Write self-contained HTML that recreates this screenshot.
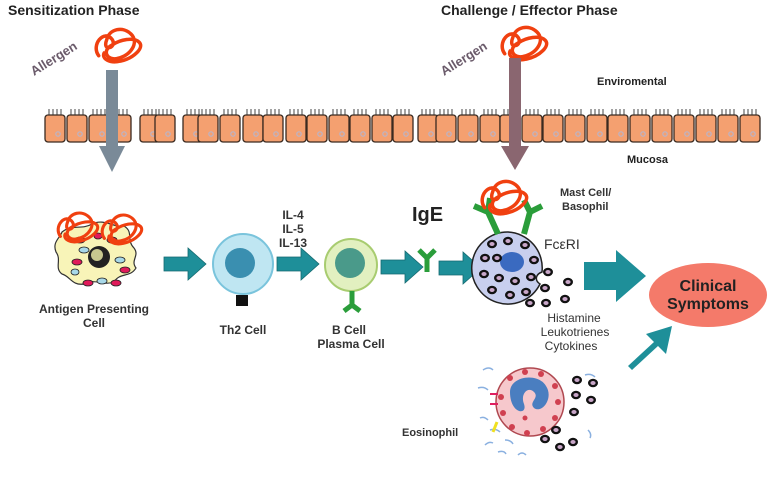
<!DOCTYPE html>
<html><head><meta charset="utf-8"><style>
html,body{margin:0;padding:0;background:#fff}
svg{display:block}
text{font-family:"Liberation Sans",Arial,sans-serif}
</style></head><body>
<svg width="768" height="485" viewBox="0 0 768 485" xmlns="http://www.w3.org/2000/svg">
<defs>
<g id="cell">
<rect x="0" y="0" width="20" height="27" rx="3" fill="#f4a070" stroke="#3a2a20" stroke-width="1.3"/>
<circle cx="13" cy="19" r="2.2" fill="none" stroke="#b9b4c8" stroke-width="1.2"/>
<path d="M4 0v-6M8 0v-6M12 0v-6M16 0v-6" stroke="#333" stroke-width="0.9"/>
</g>
<g id="alg">
<path d="M2 22c-6-8 4-20 10-12c4 6-8 10-4 0c2-8 12-10 18-4c6 6 0 16-10 18c-8 2-12-6-4-10c6-4 16-6 20-2c4 4-4 12-14 14c-8 2-14-2-12-6" fill="none" stroke="#f04010" stroke-width="2.6" stroke-linecap="round"/>
</g>
<g id="ab">
<path d="M0 0v14M0 0l-8-8M0 0l8-8" stroke="#2a9d3a" stroke-width="5" fill="none"/>
</g>
<g id="tarrow"><path d="M0 -7h24v-9l18 16l-18 16v-9h-24z" fill="#1e8f99" stroke="#156a70" stroke-width="0.8"/></g>
<g id="gran"><ellipse cx="0" cy="0" rx="5" ry="4.3" fill="#111"/><ellipse cx="0" cy="0" rx="2.6" ry="2" fill="#c8a6c8"/></g>
</defs>

<text x="8" y="15" font-size="14" font-weight="bold" fill="#222">Sensitization Phase</text>
<text x="441" y="15" font-size="14" font-weight="bold" fill="#222">Challenge / Effector Phase</text>
<text x="0" y="0" font-size="13" fill="#6a5a6a" font-weight="bold" transform="translate(34 76) rotate(-32)">Allergen</text>
<text x="0" y="0" font-size="13" fill="#6a5a6a" font-weight="bold" transform="translate(444 76) rotate(-32)">Allergen</text>
<use href="#alg" transform="translate(96 26) scale(1.35)"/>
<use href="#alg" transform="translate(502 24) scale(1.35)"/>

<g>
<use href="#cell" x="45" y="115"/><use href="#cell" x="67" y="115"/><use href="#cell" x="89" y="115"/><use href="#cell" x="111" y="115"/>
<use href="#cell" x="140" y="115"/><use href="#cell" x="155" y="115"/><use href="#cell" x="183" y="115"/><use href="#cell" x="198" y="115"/>
<use href="#cell" x="220" y="115"/><use href="#cell" x="243" y="115"/><use href="#cell" x="263" y="115"/><use href="#cell" x="286" y="115"/>
<use href="#cell" x="307" y="115"/><use href="#cell" x="329" y="115"/><use href="#cell" x="350" y="115"/><use href="#cell" x="372" y="115"/>
<use href="#cell" x="393" y="115"/><use href="#cell" x="418" y="115"/><use href="#cell" x="436" y="115"/><use href="#cell" x="458" y="115"/>
<use href="#cell" x="480" y="115"/><use href="#cell" x="500" y="115"/><use href="#cell" x="522" y="115"/><use href="#cell" x="543" y="115"/>
<use href="#cell" x="565" y="115"/><use href="#cell" x="587" y="115"/><use href="#cell" x="608" y="115"/><use href="#cell" x="630" y="115"/>
<use href="#cell" x="652" y="115"/><use href="#cell" x="674" y="115"/><use href="#cell" x="696" y="115"/><use href="#cell" x="718" y="115"/>
<use href="#cell" x="740" y="115"/>
</g>

<path d="M106 70h12v76h7l-13 26l-13-26h7z" fill="#7a8a98"/>
<path d="M509 58h12v88h8l-14 24l-14-24h8z" fill="#8a6670"/>

<text x="597" y="85" font-size="11" font-weight="bold" fill="#222">Enviromental</text>
<text x="627" y="163" font-size="11" font-weight="bold" fill="#222">Mucosa</text>

<!-- APC -->
<path d="M62 232c10-8 20-2 30-8c12-6 22 4 32 2c10 6 2 14 10 22c6 8-4 12 2 20c-6 10-16 4-22 14c-10 4-20-4-30 2c-12 2-14-8-22-10c-8-6 0-14-6-22c-4-10 4-14 6-20z" fill="#f8f4b8" stroke="#333" stroke-width="1.2"/>
<circle cx="99" cy="257" r="11" fill="#222"/><circle cx="97" cy="255" r="6" fill="#c8c890"/>
<g fill="#e01a5a" stroke="#222" stroke-width="0.8">
<ellipse cx="80" cy="240" rx="5" ry="3"/><ellipse cx="112" cy="240" rx="5" ry="3"/><ellipse cx="77" cy="262" rx="5" ry="3"/><ellipse cx="125" cy="270" rx="5" ry="3"/><ellipse cx="116" cy="283" rx="5" ry="3"/><ellipse cx="88" cy="283" rx="5" ry="3"/><ellipse cx="98" cy="236" rx="4" ry="3"/></g>
<g fill="#a8d8e8" stroke="#222" stroke-width="0.8">
<ellipse cx="84" cy="250" rx="5" ry="3"/><ellipse cx="120" cy="260" rx="5" ry="3"/><ellipse cx="102" cy="281" rx="5" ry="3"/><ellipse cx="75" cy="272" rx="4" ry="3"/></g>
<use href="#alg" transform="translate(58 210) scale(1.2)"/>
<use href="#alg" transform="translate(102 212) scale(1.2)"/>
<text x="94" y="313" font-size="12" font-weight="bold" text-anchor="middle" fill="#333">Antigen Presenting</text>
<text x="94" y="327" font-size="12" font-weight="bold" text-anchor="middle" fill="#333">Cell</text>

<use href="#tarrow" x="164" y="264"/>
<!-- Th2 -->
<circle cx="243" cy="264" r="30" fill="#bfe6f2" stroke="#7ac4dc" stroke-width="2"/>
<circle cx="240" cy="263" r="15" fill="#3a8fb0"/>
<rect x="236" y="295" width="12" height="11" fill="#111"/>
<text x="243" y="334" font-size="12" font-weight="bold" text-anchor="middle" fill="#333">Th2 Cell</text>

<text x="293" y="219" font-size="12" font-weight="bold" text-anchor="middle" fill="#333">IL-4</text>
<text x="293" y="233" font-size="12" font-weight="bold" text-anchor="middle" fill="#333">IL-5</text>
<text x="293" y="247" font-size="12" font-weight="bold" text-anchor="middle" fill="#333">IL-13</text>
<use href="#tarrow" x="277" y="264"/>
<!-- B cell -->
<circle cx="351" cy="265" r="26" fill="#e2f0c0" stroke="#a8cc70" stroke-width="2"/>
<circle cx="350" cy="263" r="15" fill="#4a9a8a"/>
<path d="M352 291v14M352 305l-8 6M352 305l8 6" stroke="#2a9d3a" stroke-width="5" fill="none"/>
<text x="349" y="334" font-size="12" font-weight="bold" text-anchor="middle" fill="#333">B Cell</text>
<text x="351" y="348" font-size="12" font-weight="bold" text-anchor="middle" fill="#333">Plasma Cell</text>

<use href="#tarrow" x="381" y="267"/>
<text x="412" y="221" font-size="20" font-weight="bold" fill="#222">IgE</text>
<use href="#ab" x="427" y="258"/>
<use href="#tarrow" x="439" y="268"/>

<!-- mast cell -->
<path d="M508 232a36 36 0 1 0 32 52c-6-4-4-10 2-12a36 36 0 0 0 -34 -40z" fill="#c8cfee" stroke="#222" stroke-width="1.5"/>
<ellipse cx="512" cy="262" rx="12" ry="10" fill="#3a6ac0"/>
<g>
<use href="#gran" x="492" y="244"/><use href="#gran" x="508" y="241"/><use href="#gran" x="525" y="245"/>
<use href="#gran" x="485" y="258"/><use href="#gran" x="534" y="260"/><use href="#gran" x="484" y="274"/><use href="#gran" x="499" y="278"/>
<use href="#gran" x="515" y="281"/><use href="#gran" x="531" y="277"/><use href="#gran" x="492" y="290"/><use href="#gran" x="510" y="295"/>
<use href="#gran" x="526" y="292"/><use href="#gran" x="497" y="258"/>
<use href="#gran" x="548" y="272"/><use href="#gran" x="545" y="288"/><use href="#gran" x="568" y="282"/><use href="#gran" x="546" y="303"/>
<use href="#gran" x="565" y="299"/><use href="#gran" x="530" y="303"/>
</g>
<path d="M498 234l-10-22M488 212l-14-6M488 212l2-14" stroke="#2a9d3a" stroke-width="6" fill="none"/>
<path d="M524 234l6-22M530 212l-6-12M530 212l12-6" stroke="#2a9d3a" stroke-width="6" fill="none"/>
<use href="#alg" transform="translate(482 178) scale(1.35)"/>
<text x="560" y="196" font-size="11" font-weight="bold" fill="#333">Mast Cell/</text>
<text x="562" y="210" font-size="11" font-weight="bold" fill="#333">Basophil</text>
<text x="544" y="249" font-size="14" fill="#333">FcεRI</text>

<text x="574" y="322" font-size="12" text-anchor="middle" fill="#333">Histamine</text>
<text x="575" y="336" font-size="12" text-anchor="middle" fill="#333">Leukotrienes</text>
<text x="571" y="350" font-size="12" text-anchor="middle" fill="#333">Cytokines</text>

<path d="M584 262h32v-12l30 26l-30 26v-12h-32z" fill="#1e8f99"/>
<path d="M628 366l26-24l-8-8l26-8l-6 28l-8-8l-26 24z" fill="#1e8f99"/>
<ellipse cx="708" cy="295" rx="59" ry="32" fill="#f47a6a"/>
<text x="708" y="291" font-size="16" font-weight="bold" text-anchor="middle" fill="#222">Clinical</text>
<text x="708" y="309" font-size="16" font-weight="bold" text-anchor="middle" fill="#222">Symptoms</text>

<!-- eosinophil -->
<circle cx="530" cy="402" r="34" fill="#f6c8cc" stroke="#b04850" stroke-width="1.5"/>
<path d="M510 392c0-16 28-20 36-6c8 12 -4 28 -12 22c-6-6 6-10 0-16c-6-6-14 2-10 12c4 12-14 10-14-12z" fill="#4a7ec0"/>
<g fill="#d04050">
<circle cx="510" cy="378" r="3"/><circle cx="525" cy="372" r="3"/><circle cx="541" cy="374" r="3"/><circle cx="555" cy="386" r="3"/><circle cx="558" cy="402" r="3"/>
<circle cx="555" cy="418" r="3"/><circle cx="543" cy="429" r="3"/><circle cx="527" cy="433" r="3"/><circle cx="512" cy="427" r="3"/><circle cx="503" cy="413" r="3"/><circle cx="501" cy="397" r="3"/><circle cx="525" cy="418" r="2.5"/></g>
<g><use href="#gran" x="577" y="380"/><use href="#gran" x="593" y="383"/><use href="#gran" x="576" y="395"/><use href="#gran" x="591" y="400"/>
<use href="#gran" x="574" y="412"/><use href="#gran" x="556" y="430"/><use href="#gran" x="545" y="439"/><use href="#gran" x="560" y="447"/><use href="#gran" x="573" y="442"/></g>
<g stroke="#8ab0e0" stroke-width="1.5" fill="none">
<path d="M483 370q6-4 10 0M478 388q6-2 10 2M490 430q6-2 10 2M485 445q4-4 8-2M498 452q6-2 8 2M505 440q6 0 8 4M518 455q4-4 8 0M585 375q6-2 10 2M588 430q4 4 2 8M480 418q4-2 8 2"/></g>
<path d="M490 394h8M490 404h8" stroke="#e02060" stroke-width="2"/>
<path d="M497 422l-4 10" stroke="#f0e020" stroke-width="3"/>
<text x="402" y="436" font-size="11" font-weight="bold" fill="#333">Eosinophil</text>
</svg>
</body></html>
